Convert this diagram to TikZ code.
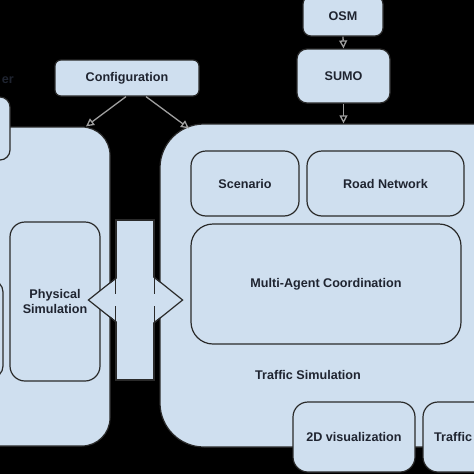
\documentclass[tikz,border=0pt]{standalone}
\usepackage{fontspec}
\setmainfont{Liberation Sans}
\usetikzlibrary{arrows.meta}
\definecolor{boxfill}{HTML}{CFDFEF}
\definecolor{boxline}{HTML}{2A2A2A}
\definecolor{txt}{HTML}{1F2430}
\begin{document}
\begin{tikzpicture}[x=1pt,y=-1pt,
  blk/.style={draw=boxline,fill=boxfill,line width=1.2pt,inner sep=0pt},
  lbl/.style={text=txt,font=\fontsize{12.6}{14.5}\selectfont\bfseries,align=center,inner sep=1pt},
  conn/.style={draw=gray!75,line width=1.3pt,-{Triangle[open,length=8pt,width=8pt]}}]
\useasboundingbox (0,0) rectangle (474,474);
\clip (0,0) rectangle (474,474);
\fill[black] (0,0) rectangle (474,474);
% big blocks
\node[blk,rounded corners=28pt,minimum width=150pt,minimum height=319pt] (leftblk) at (35,286.5) {};
\node[blk,rounded corners=44pt,minimum width=360pt,minimum height=323pt] (trafblk) at (340,285.5) {};
% cut-off box at upper left
\node[blk,rounded corners=10pt,minimum width=70pt,minimum height=63pt] (cutbox) at (-25,128.5) {};
\node[lbl,anchor=east] (cuttxt) at (15,80) {er};
% cut-off box inside left block
\node[blk,rounded corners=12pt,minimum width=63pt,minimum height=98pt] (leftin) at (-28.5,329) {};
% physical simulation
\node[blk,lbl,rounded corners=15pt,minimum width=90pt,minimum height=159pt] (phys) at (55,301.5) {Physical\\Simulation};
% traffic simulation content
\node[blk,lbl,rounded corners=15pt,minimum width=108pt,minimum height=65pt] (scen) at (245,183.5) {Scenario};
\node[blk,lbl,rounded corners=15pt,minimum width=157pt,minimum height=65pt] (road) at (385.5,183.5) {Road Network};
\node[blk,lbl,rounded corners=22pt,minimum width=270pt,minimum height=120pt] (mac) at (326,284) {Multi-Agent Coordination};
\node[lbl] (tslbl) at (308,375) {Traffic Simulation};
\node[blk,lbl,rounded corners=15pt,minimum width=122pt,minimum height=70pt] (vis) at (354,437) {2D visualization};
\node[blk,rounded corners=15pt,minimum width=107pt,minimum height=70pt] (trbox) at (476.5,437) {};
\node[lbl,anchor=west] (trtxt) at (433,437) {Traffic};
% top boxes
\node[blk,lbl,rounded corners=6pt,minimum width=144pt,minimum height=36pt] (config) at (127,78) {Configuration};
\node[blk,lbl,rounded corners=8pt,minimum width=80pt,minimum height=40pt] (osm) at (343,16) {OSM};
\node[blk,lbl,rounded corners=10pt,minimum width=93pt,minimum height=54pt] (sumo) at (343.5,76) {SUMO};
% arrows
\draw[conn] ([xshift=-1pt]config.south) -- (leftblk.north -| 86,0);
\draw[conn] ([xshift=19pt]config.south) -- ([yshift=-5pt]trafblk.north -| 189,0);
\draw[conn] (osm.south) -- (sumo.north);
\draw[conn] (sumo.south) -- (trafblk.north -| sumo.south);
% bidirectional connector between the simulations
\node[blk,minimum width=38pt,minimum height=160pt] (bar) at (135,300) {};
\fill[boxfill] ([yshift=21.5pt,xshift=1.5pt]bar.west) -- ([xshift=-27pt]bar.west) -- ([yshift=-21.5pt,xshift=1.5pt]bar.west) -- cycle;
\fill[boxfill] ([yshift=22.5pt,xshift=-1.5pt]bar.east) -- ([xshift=28pt]bar.east) -- ([yshift=-22.5pt,xshift=-1.5pt]bar.east) -- cycle;
\draw[boxline,line width=1.2pt,line join=miter]
  ([yshift=21.5pt]bar.west) -- ([xshift=-27pt]bar.west) -- ([yshift=-21.5pt]bar.west);
\draw[boxline,line width=1.2pt,line join=miter]
  ([yshift=22.5pt]bar.east) -- ([xshift=28pt]bar.east) -- ([yshift=-22.5pt]bar.east);
\draw[boxline,line width=1.2pt] ([yshift=21.5pt]bar.west) -- ([yshift=6pt]bar.west)
  ([yshift=-6pt]bar.west) -- ([yshift=-21.5pt]bar.west);
\draw[boxline,line width=1.2pt] ([yshift=22.5pt]bar.east) -- ([yshift=6pt]bar.east)
  ([yshift=-6pt]bar.east) -- ([yshift=-22.5pt]bar.east);
\end{tikzpicture}
\end{document}
